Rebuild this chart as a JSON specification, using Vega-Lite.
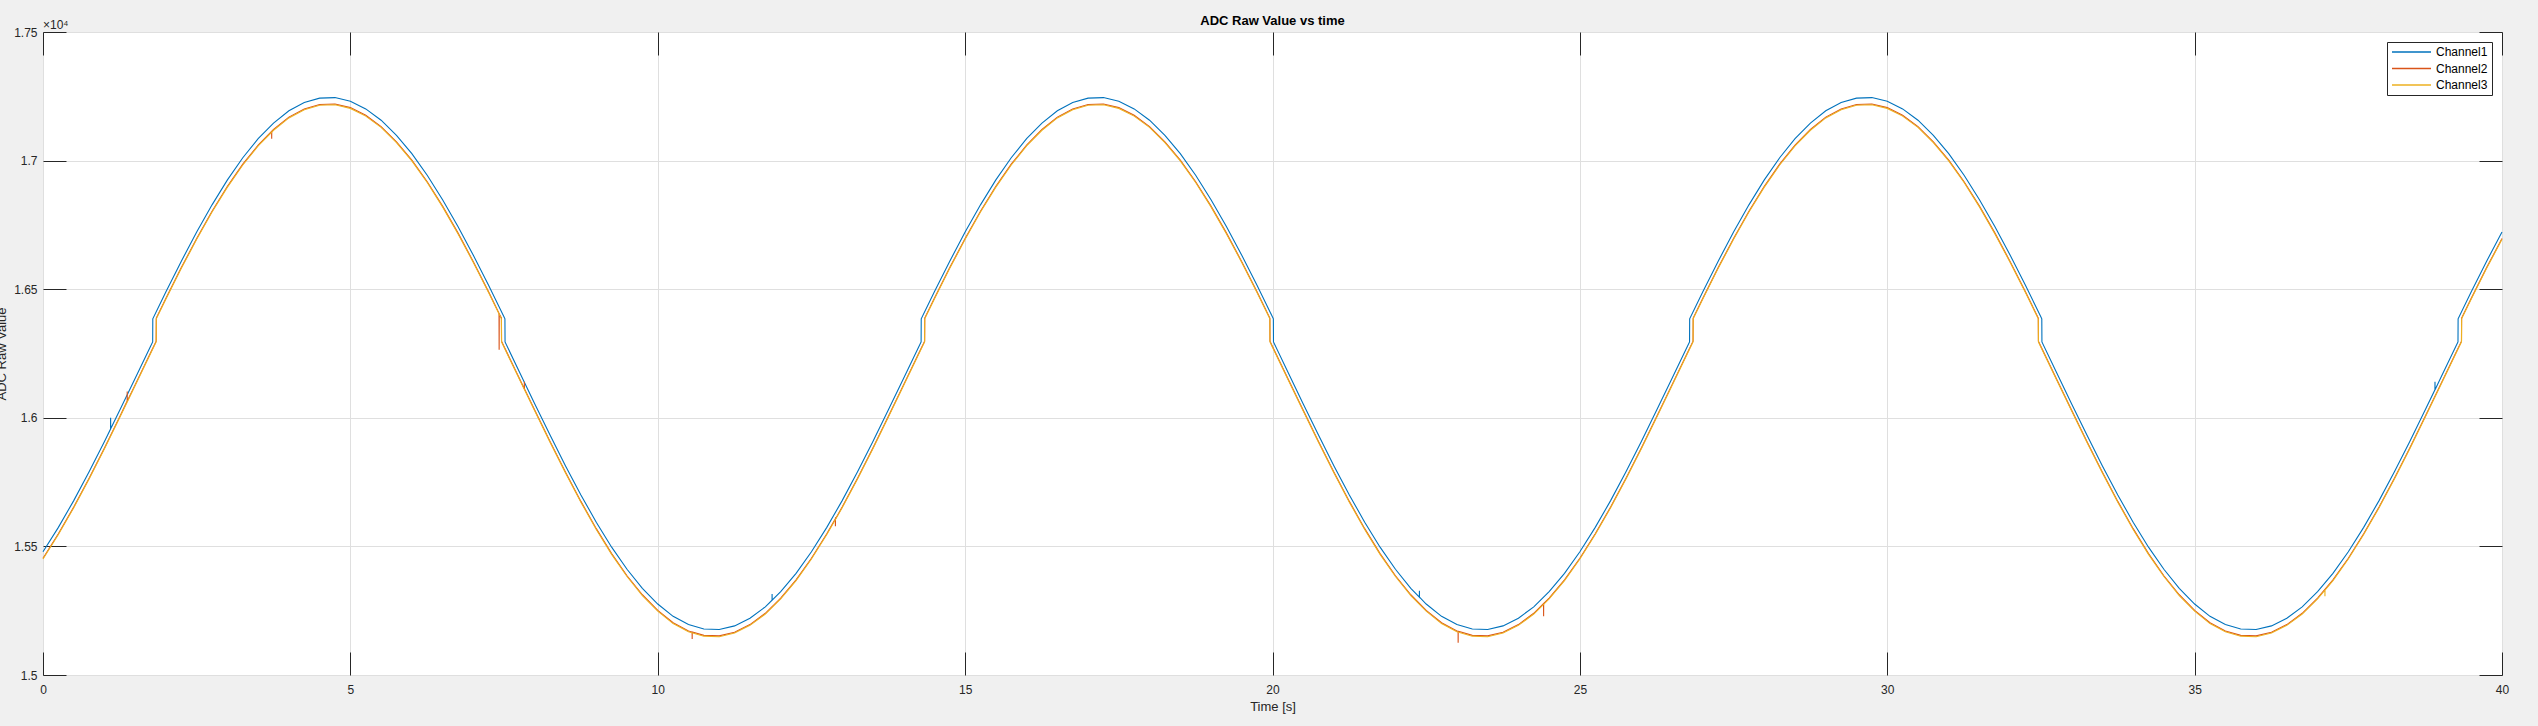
{
  "$schema": "https://vega.github.io/schema/vega-lite/v6.json",
  "width": 2459,
  "height": 643,
  "autosize": {"type": "none"},
  "padding": {"left": 43, "top": 32, "right": 36, "bottom": 51},
  "background": "#f0f0f0",
  "title": {"text": "ADC Raw Value vs time", "fontSize": 13, "fontWeight": "bold", "color": "#000000", "offset": -9},
  "data": {"values": [
    {"t":0,"Channel1":15479,"Channel2":15454,"Channel3":15451},
    {"t":0.25,"Channel1":15574,"Channel2":15549,"Channel3":15546},
    {"t":0.5,"Channel1":15678,"Channel2":15653,"Channel3":15650},
    {"t":0.75,"Channel1":15790,"Channel2":15765,"Channel3":15762},
    {"t":1,"Channel1":15908,"Channel2":15883,"Channel3":15880},
    {"t":1.25,"Channel1":16030,"Channel2":16005,"Channel3":16002},
    {"t":1.5,"Channel1":16154,"Channel2":16129,"Channel3":16126},
    {"t":1.75,"Channel1":16278,"Channel2":16253,"Channel3":16250},
    {"t":2,"Channel1":16490,"Channel2":16465,"Channel3":16462},
    {"t":2.25,"Channel1":16609,"Channel2":16584,"Channel3":16581},
    {"t":2.5,"Channel1":16722,"Channel2":16697,"Channel3":16694},
    {"t":2.75,"Channel1":16828,"Channel2":16803,"Channel3":16800},
    {"t":3,"Channel1":16925,"Channel2":16900,"Channel3":16897},
    {"t":3.25,"Channel1":17011,"Channel2":16986,"Channel3":16983},
    {"t":3.5,"Channel1":17085,"Channel2":17060,"Channel3":17057},
    {"t":3.75,"Channel1":17146,"Channel2":17121,"Channel3":17118},
    {"t":4,"Channel1":17194,"Channel2":17169,"Channel3":17166},
    {"t":4.25,"Channel1":17226,"Channel2":17201,"Channel3":17198},
    {"t":4.5,"Channel1":17243,"Channel2":17218,"Channel3":17215},
    {"t":4.75,"Channel1":17245,"Channel2":17220,"Channel3":17217},
    {"t":5,"Channel1":17231,"Channel2":17206,"Channel3":17203},
    {"t":5.25,"Channel1":17201,"Channel2":17176,"Channel3":17173},
    {"t":5.5,"Channel1":17157,"Channel2":17132,"Channel3":17129},
    {"t":5.75,"Channel1":17098,"Channel2":17073,"Channel3":17070},
    {"t":6,"Channel1":17027,"Channel2":17002,"Channel3":16999},
    {"t":6.25,"Channel1":16943,"Channel2":16918,"Channel3":16915},
    {"t":6.5,"Channel1":16848,"Channel2":16823,"Channel3":16820},
    {"t":6.75,"Channel1":16744,"Channel2":16719,"Channel3":16716},
    {"t":7,"Channel1":16632,"Channel2":16607,"Channel3":16604},
    {"t":7.25,"Channel1":16514,"Channel2":16489,"Channel3":16486},
    {"t":7.5,"Channel1":16392,"Channel2":16277,"Channel3":16274},
    {"t":7.75,"Channel1":16178,"Channel2":16153,"Channel3":16150},
    {"t":8,"Channel1":16054,"Channel2":16029,"Channel3":16026},
    {"t":8.25,"Channel1":15932,"Channel2":15907,"Channel3":15904},
    {"t":8.5,"Channel1":15813,"Channel2":15788,"Channel3":15785},
    {"t":8.75,"Channel1":15700,"Channel2":15675,"Channel3":15672},
    {"t":9,"Channel1":15594,"Channel2":15569,"Channel3":15566},
    {"t":9.25,"Channel1":15497,"Channel2":15472,"Channel3":15469},
    {"t":9.5,"Channel1":15411,"Channel2":15386,"Channel3":15383},
    {"t":9.75,"Channel1":15337,"Channel2":15312,"Channel3":15309},
    {"t":10,"Channel1":15276,"Channel2":15251,"Channel3":15248},
    {"t":10.25,"Channel1":15228,"Channel2":15203,"Channel3":15200},
    {"t":10.5,"Channel1":15196,"Channel2":15171,"Channel3":15168},
    {"t":10.75,"Channel1":15179,"Channel2":15154,"Channel3":15151},
    {"t":11,"Channel1":15177,"Channel2":15152,"Channel3":15149},
    {"t":11.25,"Channel1":15191,"Channel2":15166,"Channel3":15163},
    {"t":11.5,"Channel1":15221,"Channel2":15196,"Channel3":15193},
    {"t":11.75,"Channel1":15265,"Channel2":15240,"Channel3":15237},
    {"t":12,"Channel1":15324,"Channel2":15299,"Channel3":15296},
    {"t":12.25,"Channel1":15395,"Channel2":15370,"Channel3":15367},
    {"t":12.5,"Channel1":15479,"Channel2":15454,"Channel3":15451},
    {"t":12.75,"Channel1":15574,"Channel2":15549,"Channel3":15546},
    {"t":13,"Channel1":15678,"Channel2":15653,"Channel3":15650},
    {"t":13.25,"Channel1":15790,"Channel2":15765,"Channel3":15762},
    {"t":13.5,"Channel1":15908,"Channel2":15883,"Channel3":15880},
    {"t":13.75,"Channel1":16030,"Channel2":16005,"Channel3":16002},
    {"t":14,"Channel1":16154,"Channel2":16129,"Channel3":16126},
    {"t":14.25,"Channel1":16278,"Channel2":16253,"Channel3":16250},
    {"t":14.5,"Channel1":16490,"Channel2":16465,"Channel3":16462},
    {"t":14.75,"Channel1":16609,"Channel2":16584,"Channel3":16581},
    {"t":15,"Channel1":16722,"Channel2":16697,"Channel3":16694},
    {"t":15.25,"Channel1":16828,"Channel2":16803,"Channel3":16800},
    {"t":15.5,"Channel1":16925,"Channel2":16900,"Channel3":16897},
    {"t":15.75,"Channel1":17011,"Channel2":16986,"Channel3":16983},
    {"t":16,"Channel1":17085,"Channel2":17060,"Channel3":17057},
    {"t":16.25,"Channel1":17146,"Channel2":17121,"Channel3":17118},
    {"t":16.5,"Channel1":17194,"Channel2":17169,"Channel3":17166},
    {"t":16.75,"Channel1":17226,"Channel2":17201,"Channel3":17198},
    {"t":17,"Channel1":17243,"Channel2":17218,"Channel3":17215},
    {"t":17.25,"Channel1":17245,"Channel2":17220,"Channel3":17217},
    {"t":17.5,"Channel1":17231,"Channel2":17206,"Channel3":17203},
    {"t":17.75,"Channel1":17201,"Channel2":17176,"Channel3":17173},
    {"t":18,"Channel1":17157,"Channel2":17132,"Channel3":17129},
    {"t":18.25,"Channel1":17098,"Channel2":17073,"Channel3":17070},
    {"t":18.5,"Channel1":17027,"Channel2":17002,"Channel3":16999},
    {"t":18.75,"Channel1":16943,"Channel2":16918,"Channel3":16915},
    {"t":19,"Channel1":16848,"Channel2":16823,"Channel3":16820},
    {"t":19.25,"Channel1":16744,"Channel2":16719,"Channel3":16716},
    {"t":19.5,"Channel1":16632,"Channel2":16607,"Channel3":16604},
    {"t":19.75,"Channel1":16514,"Channel2":16489,"Channel3":16486},
    {"t":20,"Channel1":16392,"Channel2":16277,"Channel3":16274},
    {"t":20.25,"Channel1":16178,"Channel2":16153,"Channel3":16150},
    {"t":20.5,"Channel1":16054,"Channel2":16029,"Channel3":16026},
    {"t":20.75,"Channel1":15932,"Channel2":15907,"Channel3":15904},
    {"t":21,"Channel1":15813,"Channel2":15788,"Channel3":15785},
    {"t":21.25,"Channel1":15700,"Channel2":15675,"Channel3":15672},
    {"t":21.5,"Channel1":15594,"Channel2":15569,"Channel3":15566},
    {"t":21.75,"Channel1":15497,"Channel2":15472,"Channel3":15469},
    {"t":22,"Channel1":15411,"Channel2":15386,"Channel3":15383},
    {"t":22.25,"Channel1":15337,"Channel2":15312,"Channel3":15309},
    {"t":22.5,"Channel1":15276,"Channel2":15251,"Channel3":15248},
    {"t":22.75,"Channel1":15228,"Channel2":15203,"Channel3":15200},
    {"t":23,"Channel1":15196,"Channel2":15171,"Channel3":15168},
    {"t":23.25,"Channel1":15179,"Channel2":15154,"Channel3":15151},
    {"t":23.5,"Channel1":15177,"Channel2":15152,"Channel3":15149},
    {"t":23.75,"Channel1":15191,"Channel2":15166,"Channel3":15163},
    {"t":24,"Channel1":15221,"Channel2":15196,"Channel3":15193},
    {"t":24.25,"Channel1":15265,"Channel2":15240,"Channel3":15237},
    {"t":24.5,"Channel1":15324,"Channel2":15299,"Channel3":15296},
    {"t":24.75,"Channel1":15395,"Channel2":15370,"Channel3":15367},
    {"t":25,"Channel1":15479,"Channel2":15454,"Channel3":15451},
    {"t":25.25,"Channel1":15574,"Channel2":15549,"Channel3":15546},
    {"t":25.5,"Channel1":15678,"Channel2":15653,"Channel3":15650},
    {"t":25.75,"Channel1":15790,"Channel2":15765,"Channel3":15762},
    {"t":26,"Channel1":15908,"Channel2":15883,"Channel3":15880},
    {"t":26.25,"Channel1":16030,"Channel2":16005,"Channel3":16002},
    {"t":26.5,"Channel1":16154,"Channel2":16129,"Channel3":16126},
    {"t":26.75,"Channel1":16278,"Channel2":16253,"Channel3":16250},
    {"t":27,"Channel1":16490,"Channel2":16465,"Channel3":16462},
    {"t":27.25,"Channel1":16609,"Channel2":16584,"Channel3":16581},
    {"t":27.5,"Channel1":16722,"Channel2":16697,"Channel3":16694},
    {"t":27.75,"Channel1":16828,"Channel2":16803,"Channel3":16800},
    {"t":28,"Channel1":16925,"Channel2":16900,"Channel3":16897},
    {"t":28.25,"Channel1":17011,"Channel2":16986,"Channel3":16983},
    {"t":28.5,"Channel1":17085,"Channel2":17060,"Channel3":17057},
    {"t":28.75,"Channel1":17146,"Channel2":17121,"Channel3":17118},
    {"t":29,"Channel1":17194,"Channel2":17169,"Channel3":17166},
    {"t":29.25,"Channel1":17226,"Channel2":17201,"Channel3":17198},
    {"t":29.5,"Channel1":17243,"Channel2":17218,"Channel3":17215},
    {"t":29.75,"Channel1":17245,"Channel2":17220,"Channel3":17217},
    {"t":30,"Channel1":17231,"Channel2":17206,"Channel3":17203},
    {"t":30.25,"Channel1":17201,"Channel2":17176,"Channel3":17173},
    {"t":30.5,"Channel1":17157,"Channel2":17132,"Channel3":17129},
    {"t":30.75,"Channel1":17098,"Channel2":17073,"Channel3":17070},
    {"t":31,"Channel1":17027,"Channel2":17002,"Channel3":16999},
    {"t":31.25,"Channel1":16943,"Channel2":16918,"Channel3":16915},
    {"t":31.5,"Channel1":16848,"Channel2":16823,"Channel3":16820},
    {"t":31.75,"Channel1":16744,"Channel2":16719,"Channel3":16716},
    {"t":32,"Channel1":16632,"Channel2":16607,"Channel3":16604},
    {"t":32.25,"Channel1":16514,"Channel2":16489,"Channel3":16486},
    {"t":32.5,"Channel1":16392,"Channel2":16277,"Channel3":16274},
    {"t":32.75,"Channel1":16178,"Channel2":16153,"Channel3":16150},
    {"t":33,"Channel1":16054,"Channel2":16029,"Channel3":16026},
    {"t":33.25,"Channel1":15932,"Channel2":15907,"Channel3":15904},
    {"t":33.5,"Channel1":15813,"Channel2":15788,"Channel3":15785},
    {"t":33.75,"Channel1":15700,"Channel2":15675,"Channel3":15672},
    {"t":34,"Channel1":15594,"Channel2":15569,"Channel3":15566},
    {"t":34.25,"Channel1":15497,"Channel2":15472,"Channel3":15469},
    {"t":34.5,"Channel1":15411,"Channel2":15386,"Channel3":15383},
    {"t":34.75,"Channel1":15337,"Channel2":15312,"Channel3":15309},
    {"t":35,"Channel1":15276,"Channel2":15251,"Channel3":15248},
    {"t":35.25,"Channel1":15228,"Channel2":15203,"Channel3":15200},
    {"t":35.5,"Channel1":15196,"Channel2":15171,"Channel3":15168},
    {"t":35.75,"Channel1":15179,"Channel2":15154,"Channel3":15151},
    {"t":36,"Channel1":15177,"Channel2":15152,"Channel3":15149},
    {"t":36.25,"Channel1":15191,"Channel2":15166,"Channel3":15163},
    {"t":36.5,"Channel1":15221,"Channel2":15196,"Channel3":15193},
    {"t":36.75,"Channel1":15265,"Channel2":15240,"Channel3":15237},
    {"t":37,"Channel1":15324,"Channel2":15299,"Channel3":15296},
    {"t":37.25,"Channel1":15395,"Channel2":15370,"Channel3":15367},
    {"t":37.5,"Channel1":15479,"Channel2":15454,"Channel3":15451},
    {"t":37.75,"Channel1":15574,"Channel2":15549,"Channel3":15546},
    {"t":38,"Channel1":15678,"Channel2":15653,"Channel3":15650},
    {"t":38.25,"Channel1":15790,"Channel2":15765,"Channel3":15762},
    {"t":38.5,"Channel1":15908,"Channel2":15883,"Channel3":15880},
    {"t":38.75,"Channel1":16030,"Channel2":16005,"Channel3":16002},
    {"t":39,"Channel1":16154,"Channel2":16129,"Channel3":16126},
    {"t":39.25,"Channel1":16278,"Channel2":16253,"Channel3":16250},
    {"t":39.5,"Channel1":16490,"Channel2":16465,"Channel3":16462},
    {"t":39.75,"Channel1":16609,"Channel2":16584,"Channel3":16581},
    {"t":40,"Channel1":16722,"Channel2":16697,"Channel3":16694},
    {"t":1.784,"Channel1":16295},
    {"t":1.786,"Channel1":16385},
    {"t":1.841,"Channel2":16298,"Channel3":16295},
    {"t":1.843,"Channel2":16388,"Channel3":16385},
    {"t":7.457,"Channel2":16388,"Channel3":16385},
    {"t":7.459,"Channel2":16298,"Channel3":16295},
    {"t":7.514,"Channel1":16385},
    {"t":7.516,"Channel1":16295},
    {"t":14.284,"Channel1":16295},
    {"t":14.286,"Channel1":16385},
    {"t":14.341,"Channel2":16298,"Channel3":16295},
    {"t":14.343,"Channel2":16388,"Channel3":16385},
    {"t":19.957,"Channel2":16388,"Channel3":16385},
    {"t":19.959,"Channel2":16298,"Channel3":16295},
    {"t":20.014,"Channel1":16385},
    {"t":20.016,"Channel1":16295},
    {"t":26.784,"Channel1":16295},
    {"t":26.786,"Channel1":16385},
    {"t":26.841,"Channel2":16298,"Channel3":16295},
    {"t":26.843,"Channel2":16388,"Channel3":16385},
    {"t":32.457,"Channel2":16388,"Channel3":16385},
    {"t":32.459,"Channel2":16298,"Channel3":16295},
    {"t":32.514,"Channel1":16385},
    {"t":32.516,"Channel1":16295},
    {"t":39.284,"Channel1":16295},
    {"t":39.286,"Channel1":16385},
    {"t":39.341,"Channel2":16298,"Channel3":16295},
    {"t":39.343,"Channel2":16388,"Channel3":16385},
    {"t":1.099,"Channel1":15956},
    {"t":1.1,"Channel1":16000},
    {"t":1.101,"Channel1":15957},
    {"t":11.859,"Channel1":15291},
    {"t":11.86,"Channel1":15315},
    {"t":11.861,"Channel1":15291},
    {"t":22.389,"Channel1":15303},
    {"t":22.39,"Channel1":15328},
    {"t":22.391,"Channel1":15303},
    {"t":38.909,"Channel1":16109},
    {"t":38.91,"Channel1":16140},
    {"t":38.911,"Channel1":16109},
    {"t":1.369,"Channel2":16065},
    {"t":1.37,"Channel2":16102},
    {"t":1.371,"Channel2":16065},
    {"t":3.719,"Channel2":17114},
    {"t":3.72,"Channel2":17085},
    {"t":3.721,"Channel2":17114},
    {"t":7.418,"Channel2":16406},
    {"t":7.42,"Channel2":16265},
    {"t":7.422,"Channel2":16404},
    {"t":7.829,"Channel2":16113},
    {"t":7.83,"Channel2":16140},
    {"t":7.831,"Channel2":16113},
    {"t":10.559,"Channel2":15167},
    {"t":10.56,"Channel2":15140},
    {"t":10.561,"Channel2":15167},
    {"t":12.889,"Channel2":15607},
    {"t":12.89,"Channel2":15578},
    {"t":12.891,"Channel2":15607},
    {"t":23.019,"Channel2":15170},
    {"t":23.02,"Channel2":15125},
    {"t":23.021,"Channel2":15170},
    {"t":24.409,"Channel2":15278},
    {"t":24.41,"Channel2":15228},
    {"t":24.411,"Channel2":15278},
    {"t":37.119,"Channel3":15330},
    {"t":37.12,"Channel3":15306},
    {"t":37.121,"Channel3":15330}
  ]},
  "layer": [
    {
      "transform": [
        {"fold": ["Channel1", "Channel2", "Channel3"], "as": ["series", "value"]},
        {"filter": "isValid(datum.value)"}
      ],
      "mark": {"type": "line", "strokeWidth": 1.1},
      "encoding": {
        "x": {
          "field": "t",
          "type": "quantitative",
          "scale": {"domain": [0, 40], "nice": false},
          "axis": {
            "orient": "bottom",
            "title": "Time [s]",
            "values": [0, 5, 10, 15, 20, 25, 30, 35, 40],
            "grid": true,
            "gridColor": "#dfdfdf",
            "domain": false,
            "tickSize": -23,
            "tickColor": "#262626",
            "labelPadding": 32,
            "labelFlush": false,
            "labelOverlap": false,
            "labelFontSize": 12,
            "labelColor": "#262626",
            "titleFontSize": 13,
            "titleFontWeight": "normal",
            "titleColor": "#262626",
            "titleBaseline": "top",
            "titleY": 25.5
          }
        },
        "y": {
          "field": "value",
          "type": "quantitative",
          "scale": {"domain": [15000, 17500], "nice": false, "zero": false},
          "axis": {
            "orient": "left",
            "title": "ADC Raw Value",
            "values": [15000, 15500, 16000, 16500, 17000, 17500],
            "labelExpr": "format(datum.value / 10000, '~g')",
            "grid": true,
            "gridColor": "#dfdfdf",
            "domain": false,
            "tickSize": -23,
            "tickColor": "#262626",
            "labelPadding": 29,
            "labelFlush": false,
            "labelOverlap": false,
            "labelFontSize": 12,
            "labelColor": "#262626",
            "titleFontSize": 13,
            "titleFontWeight": "normal",
            "titleColor": "#262626",
            "titleAngle": 270,
            "titleAlign": "center",
            "titleBaseline": "alphabetic",
            "titleX": -38,
            "titleY": 321.5
          }
        },
        "color": {
          "field": "series",
          "type": "nominal",
          "scale": {
            "domain": ["Channel1", "Channel2", "Channel3"],
            "range": ["#0072BD", "#D95319", "#EDB120"]
          },
          "legend": {"title": null, "orient": "top-right", "offset": 10}
        }
      }
    },
    {
      "mark": {"type": "point", "opacity": 0},
      "encoding": {
        "x": {
          "field": "t",
          "type": "quantitative",
          "axis": {
            "orient": "top",
            "title": null,
            "labels": false,
            "grid": false,
            "domain": false,
            "values": [0, 5, 10, 15, 20, 25, 30, 35, 40],
            "tickSize": -23,
            "tickColor": "#262626"
          }
        },
        "y": {
          "field": "Channel1",
          "type": "quantitative",
          "axis": {
            "orient": "right",
            "title": null,
            "labels": false,
            "grid": false,
            "domain": false,
            "values": [15000, 15500, 16000, 16500, 17000, 17500],
            "tickSize": -23,
            "tickColor": "#262626"
          }
        }
      }
    },
    {
      "data": {"values": [{"note": "×10⁴"}]},
      "mark": {"type": "text", "align": "left", "baseline": "alphabetic", "dy": -3, "fontSize": 12, "color": "#262626"},
      "encoding": {
        "x": {"datum": 0, "type": "quantitative", "axis": null},
        "y": {"datum": 17500, "type": "quantitative", "axis": null},
        "text": {"field": "note"}
      }
    }
  ],
  "resolve": {"axis": {"x": "independent", "y": "independent"}},
  "config": {
    "font": "Liberation Sans",
    "view": {"stroke": "#262626", "strokeWidth": 1, "fill": "white"},
    "legend": {
      "symbolType": "M-1,0H6.8",
      "symbolSize": 100,
      "symbolStrokeWidth": 1.3,
      "labelOffset": 33,
      "labelFontSize": 12,
      "labelColor": "#000000",
      "padding": 4,
      "rowPadding": 4.5,
      "strokeColor": "#262626",
      "fillColor": "white",
      "cornerRadius": 0
    }
  }
}
